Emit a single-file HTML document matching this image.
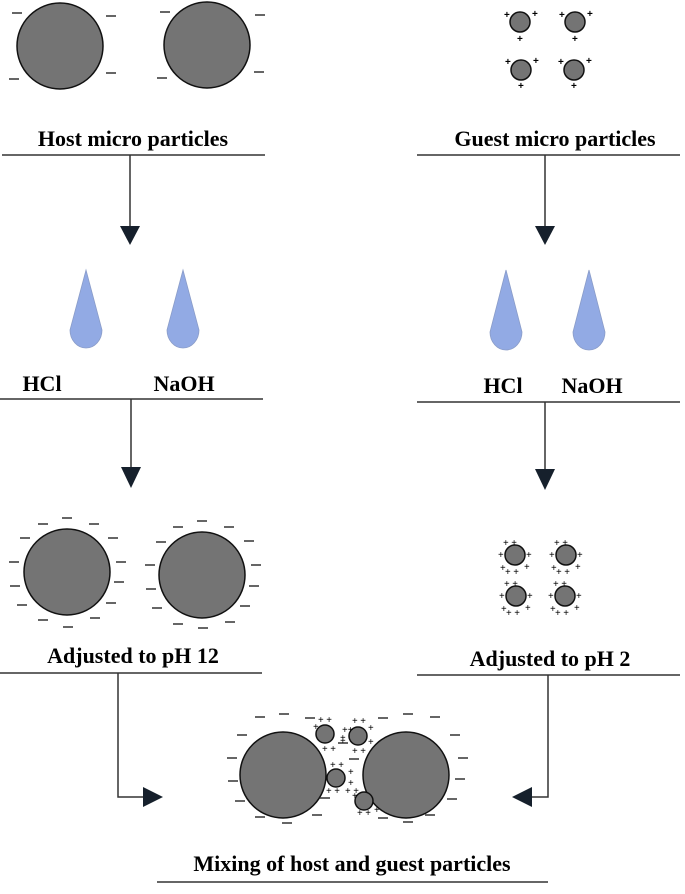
<!DOCTYPE html>
<html><head><meta charset="utf-8"><style>
html,body{margin:0;padding:0;background:#fff;}
svg{display:block;}
text{font-family:"Liberation Serif",serif;font-weight:bold;fill:#000;}
</style></head><body>
<svg width="685" height="894" viewBox="0 0 685 894" xmlns="http://www.w3.org/2000/svg">
<defs>
<marker id="ah" viewBox="0 0 10 10" refX="10" refY="5" markerWidth="6" markerHeight="6" orient="auto-start-reverse" markerUnits="userSpaceOnUse">
</marker>
</defs>
<g fill="#747474" stroke="#111" stroke-width="1.5">
<circle cx="60" cy="46" r="43"/><circle cx="207" cy="45" r="43"/>
<circle cx="520" cy="22" r="10"/><circle cx="575" cy="22" r="10"/>
<circle cx="521" cy="70" r="10"/><circle cx="574" cy="70" r="10"/>
<circle cx="67" cy="572" r="43"/><circle cx="202" cy="575" r="43"/>
<circle cx="515" cy="555" r="10"/><circle cx="566" cy="555" r="10"/>
<circle cx="516" cy="596" r="10"/><circle cx="565" cy="596" r="10"/>
<circle cx="283" cy="775" r="43"/><circle cx="406" cy="775" r="43"/>
<circle cx="325" cy="734" r="9"/><circle cx="358" cy="736" r="9"/>
<circle cx="336" cy="778" r="9"/><circle cx="364" cy="801" r="9"/>
</g>
<g stroke="#333" stroke-width="1.6">
<path d="M12 13h10M106 16h10M106 73h10M9 79h10M160 12h10M255 15h10M254 72h10M157 78h10"/>
<!-- pH12 minus -->
<path d="M62 518h10M38 524h10M89 524h10M20 538h10M108 538h10M9 562h10M116 562h10M10 586h10M114 582h10M17 605h10M106 603h10M38 620h10M90 618h10M63 627h10"/>
<path d="M197 521h10M173 527h10M224 527h10M156 542h10M244 541h10M145 565h10M251 565h10M146 589h10M249 586h10M152 608h10M240 606h10M173 624h10M225 622h10M198 628h10"/>
<!-- mix minus -->
<path d="M255 717h10M279 714h10M305 718h10M237 735h10M227 758h10M228 781h10M235 801h10M255 817h10M282 823h10M312 815h10M320 798h10M378 718h10M403 714h10M430 717h10M450 735h10M458 758h10M455 779h10M447 799h10M425 815h10M403 822h10M378 818h10M349 759h10M338 743h10"/>
</g>
<g font-family="Liberation Sans,sans-serif" font-size="10" font-weight="bold" fill="#222" style="font-family:'Liberation Sans',sans-serif">
<text x="504" y="18" style="font-family:'Liberation Sans',sans-serif;font-size:10px">+</text><text x="532" y="17" style="font-family:'Liberation Sans',sans-serif;font-size:10px">+</text><text x="517" y="42" style="font-family:'Liberation Sans',sans-serif;font-size:10px">+</text>
<text x="559" y="18" style="font-family:'Liberation Sans',sans-serif;font-size:10px">+</text><text x="587" y="17" style="font-family:'Liberation Sans',sans-serif;font-size:10px">+</text><text x="572" y="42" style="font-family:'Liberation Sans',sans-serif;font-size:10px">+</text>
<text x="505" y="65" style="font-family:'Liberation Sans',sans-serif;font-size:10px">+</text><text x="533" y="64" style="font-family:'Liberation Sans',sans-serif;font-size:10px">+</text><text x="518" y="89" style="font-family:'Liberation Sans',sans-serif;font-size:10px">+</text>
<text x="558" y="65" style="font-family:'Liberation Sans',sans-serif;font-size:10px">+</text><text x="586" y="64" style="font-family:'Liberation Sans',sans-serif;font-size:10px">+</text><text x="571" y="89" style="font-family:'Liberation Sans',sans-serif;font-size:10px">+</text>
</g>
<g style="font-family:'Liberation Sans',sans-serif;font-size:10px;font-weight:bold" fill="#222">
<text x="503" y="546">+ +</text><text x="498" y="558">+</text><text x="526" y="558">+</text><text x="500" y="571">+</text><text x="524" y="570">+</text><text x="505" y="575">+ +</text>
<text x="554" y="546">+ +</text><text x="549" y="558">+</text><text x="577" y="558">+</text><text x="551" y="571">+</text><text x="575" y="570">+</text><text x="556" y="575">+ +</text>
<text x="504" y="587">+ +</text><text x="499" y="599">+</text><text x="527" y="599">+</text><text x="501" y="612">+</text><text x="525" y="611">+</text><text x="506" y="616">+ +</text>
<text x="553" y="587">+ +</text><text x="548" y="599">+</text><text x="576" y="599">+</text><text x="550" y="612">+</text><text x="574" y="611">+</text><text x="555" y="616">+ +</text>
<text x="318" y="723">+ +</text><text x="313" y="730">+</text><text x="342" y="733">++</text><text x="340" y="741">+</text><text x="340" y="744">+</text><text x="322" y="752">+ +</text>
<text x="352" y="724">+ +</text><text x="368" y="731">+</text><text x="368" y="745">+</text><text x="352" y="754">+ +</text>
<text x="330" y="768">+ +</text><text x="348" y="775">+</text><text x="348" y="786">+</text><text x="326" y="794">+ +</text><text x="345" y="794">+ +</text>
<text x="352" y="799">+</text><text x="357" y="816">+ +</text><text x="374" y="813">+</text>
</g>
<!-- droplets -->
<g fill="#92aae4" stroke="#8a9cc8" stroke-width="0.8">
<path d="M86 270 L102 330 A16 18 0 1 1 70 330 Z"/>
<path d="M183 270 L199 330 A16 18 0 1 1 167 330 Z"/>
<path d="M506 270 L522 332 A16 18 0 1 1 490 332 Z"/>
<path d="M589 270 L605 332 A16 18 0 1 1 573 332 Z"/>
</g>
<!-- lines -->
<g stroke="#333" stroke-width="1.5" fill="none">
<path d="M2 155H265M417 155H680M0 399H263M417 402H680M0 673H262M417 675H680M157 882H548"/>
<path d="M130 155V228M545 155V228M131 399V470M545 402V472M118 673V797H145M548 675V797H530"/>
</g>
<g fill="#16202c">
<path d="M120 226H140L130 245Z"/><path d="M535 226H555L545 245Z"/>
<path d="M121 467H141L131 488Z"/><path d="M535 469H555L545 490Z"/>
<path d="M143 787V807L163 797Z"/><path d="M532 787V807L512 797Z"/>
</g>
<g font-size="22" text-anchor="middle">
<text x="133" y="146">Host micro particles</text>
<text x="555" y="146">Guest micro particles</text>
<text x="42" y="391">HCl</text><text x="184" y="391">NaOH</text>
<text x="503" y="393">HCl</text><text x="592" y="393">NaOH</text>
<text x="133" y="663">Adjusted to pH 12</text>
<text x="550" y="666">Adjusted to pH 2</text>
<text x="352" y="871">Mixing of host and guest particles</text>
</g>
</svg>
</body></html>
